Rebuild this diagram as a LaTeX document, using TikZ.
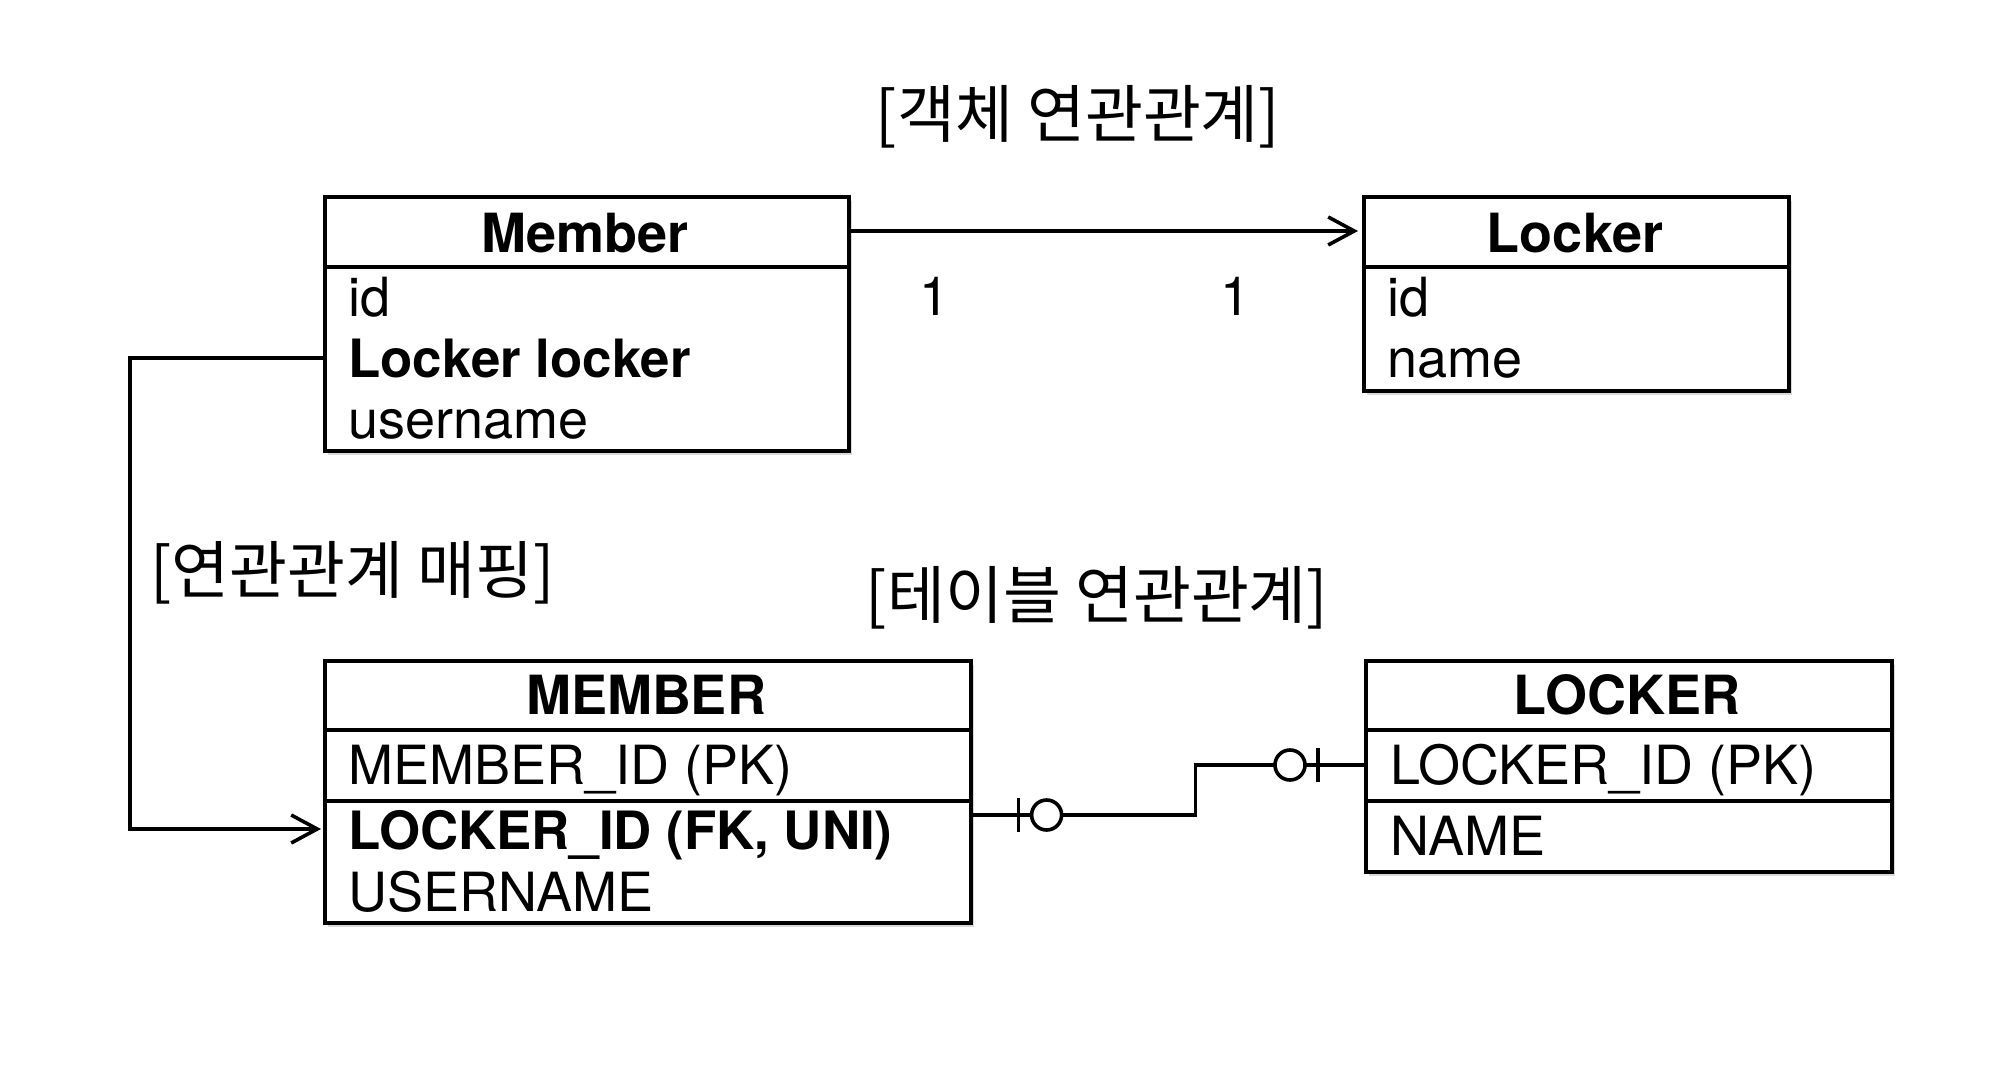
\documentclass[tikz,border=0pt]{standalone}
\usepackage{fontspec}
\setmainfont{TeX Gyre Heros}
\newfontfamily\krfont{Noto Sans CJK KR}
\usetikzlibrary{arrows.meta,shadows}
\begin{document}
\begin{tikzpicture}[x=0.5pt,y=-0.5pt,
  box/.style={draw, line width=1.8pt, fill=white, anchor=north west, inner sep=0,
    drop shadow={shadow xshift=1.5pt, shadow yshift=-2pt, opacity=0.3}},
  sep/.style={line width=1.6pt},
  conn/.style={line width=1.8pt},
  txt/.style={anchor=base west, inner sep=0, font=\fontsize{27}{32}\selectfont},
  btxt/.style={anchor=base west, inner sep=0, font=\fontsize{26.4}{32}\selectfont\bfseries},
  ttl/.style={anchor=base, inner sep=0, font=\fontsize{27}{32}\selectfont\bfseries},
  num/.style={anchor=base, inner sep=0, font=\fontsize{27}{32}\selectfont},
  kr/.style={inner sep=0, font=\fontsize{31.5}{36}\selectfont\krfont},
  tip/.style={-{Straight Barb[length=13pt,width=14pt,line width=1.8pt]}},
]
\useasboundingbox (0,0) rectangle (2000,1074);

% ---- object model ----
\node[box, minimum width=262pt, minimum height=127pt] (memO) at (323,195) {};
\draw[sep] ([yshift=-36pt]memO.north west) -- ([yshift=-36pt]memO.north east);
\node[ttl] (memOt) at (585,253) {Member};
\node[txt] (memOid) at (348,317) {id};
\node[btxt] (memOlk) at (348,378) {Locker locker};
\node[txt] (memOun) at (348,439) {username};

\node[box, minimum width=212.5pt, minimum height=97pt] (lockO) at (1362,195) {};
\draw[sep] ([yshift=-36pt]lockO.north west) -- ([yshift=-36pt]lockO.north east);
\node[ttl] (lockOt) at (1575,253) {Locker};
\node[txt] (lockOid) at (1387,317) {id};
\node[txt] (lockOnm) at (1387,378) {name};

\draw[conn, tip, shorten >=2pt] ([yshift=-18pt]memO.north east) -- ([yshift=-18pt]lockO.north west);
\node[num] (one1) at (934,316) {1};
\node[num] (one2) at (1235,316) {1};

% ---- table model ----
\node[box, minimum width=323pt, minimum height=131pt] (memT) at (323,659) {};
\draw[sep] ([yshift=-35.5pt]memT.north west) -- ([yshift=-35.5pt]memT.north east);
\draw[sep] ([yshift=-71pt]memT.north west) -- ([yshift=-71pt]memT.north east);
\node[ttl] (memTt) at (646,714) {MEMBER};
\node[txt] (memTpk) at (348,784) {MEMBER\_ID (PK)};
\node[btxt] (memTfk) at (348,849) {LOCKER\_ID (FK, UNI)};
\node[txt] (memTun) at (348,911) {USERNAME};

\node[box, minimum width=263pt, minimum height=105.5pt] (lockT) at (1364,659) {};
\draw[sep] ([yshift=-35.5pt]lockT.north west) -- ([yshift=-35.5pt]lockT.north east);
\draw[sep] ([yshift=-71pt]lockT.north west) -- ([yshift=-71pt]lockT.north east);
\node[ttl] (lockTt) at (1627,714) {LOCKER};
\node[txt] (lockTpk) at (1390,784) {LOCKER\_ID (PK)};
\node[txt] (lockTnm) at (1390,855) {NAME};

% ---- mapping connector ----
\draw[conn, tip, shorten >=1pt] ([yshift=-81.5pt]memO.north west) -- ++(-193,0)
  |- ([yshift=-85pt]memT.north west);

% ---- ER connector ----
\draw[conn] ([yshift=-78pt]memT.north east) -- ++(223,0)
  |- ([yshift=-53pt]lockT.north west);
\draw[conn] ([xshift=23pt,yshift=-78pt]memT.north east) ++(0,-17) -- ++(0,34);
\draw[conn, fill=white] ([xshift=37pt,yshift=-78pt]memT.north east) circle[radius=7.5pt];
\draw[conn] ([xshift=-23pt,yshift=-53pt]lockT.north west) ++(0,-17) -- ++(0,34);
\draw[conn, fill=white] ([xshift=-37pt,yshift=-53pt]lockT.north west) circle[radius=7.5pt];

% ---- labels ----
\node[kr] (lblObj) at (1078,117) {[객체 연관관계]};
\node[kr, anchor=west] (lblMap) at (150,573) {[연관관계 매핑]};
\node[kr] (lblTbl) at (1097,598) {[테이블 연관관계]};
\end{tikzpicture}
\end{document}
